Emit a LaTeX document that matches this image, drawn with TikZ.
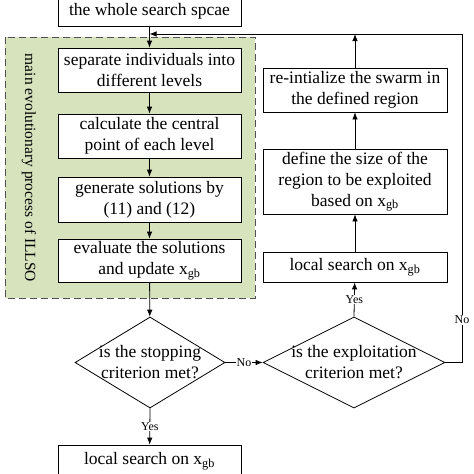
\documentclass[tikz,border=0pt]{standalone}
\usepackage{fontspec}
\setmainfont{Liberation Serif}
\usetikzlibrary{shapes.geometric,arrows.meta}
\definecolor{pgreen}{RGB}{215,227,189}
\definecolor{dgray}{RGB}{80,80,80}
\begin{document}
\begin{tikzpicture}[x=1pt,y=-1pt,
  box/.style={draw=black,line width=0.8pt,fill=white,minimum width=183pt,inner sep=0pt,align=center,font=\fontsize{17.5}{21}\selectfont},
  dia/.style={draw=black,line width=0.8pt,fill=white,diamond,inner sep=0pt},
  dtext/.style={align=center,font=\fontsize{17.5}{21}\selectfont},
  arr/.style={line width=0.8pt,-{Latex[length=7pt,width=5.5pt]}},
  lbl/.style={fill=white,inner sep=1pt,font=\fontsize{12}{14}\selectfont}]
\useasboundingbox (0,0) rectangle (474,474);
% green region
\draw[fill=pgreen,draw=dgray,line width=0.9pt,dash pattern=on 7pt off 4pt] (5,37) rectangle (255,298);
\node[rotate=-90,font=\fontsize{15.5}{18}\selectfont] (lab) at (29,168) {main evolutionary process of ILLSO};
% left column
\node[box,minimum height=30pt] (top) at (149.5,11) {the whole search spcae};
\node[box,minimum height=44pt] (b1) at (149.5,70) {separate individuals into\\different levels};
\node[box,minimum height=44pt] (b2) at (149.5,136) {calculate the central\\point of each level};
\node[box,minimum height=45pt] (b3) at (149.5,199.5) {generate solutions by\\(11) and (12)};
\node[box,minimum height=43pt] (b4) at (149.5,260.5) {evaluate the solutions\\and update x\textsubscript{gb}};
\node[dia,minimum width=150pt,minimum height=91pt] (d1) at (150,362.5) {};
\node[dtext] (t1) at (d1) {is the stopping\\criterion met?};
\node[box,minimum height=32pt] (bot) at (149.5,461) {local search on x\textsubscript{gb}};
% right column
\node[dia,minimum width=182pt,minimum height=91pt] (d2) at (354,362.5) {};
\node[dtext] (t2) at (d2) {is the exploitation\\criterion met?};
\node[box,minimum width=184pt,minimum height=30pt] (r1) at (355,267) {local search on x\textsubscript{gb}};
\node[box,minimum width=184pt,minimum height=65pt] (r2) at (355,181.5) {define the size of the\\region to be exploited\\based on x\textsubscript{gb}};
\node[box,minimum width=184pt,minimum height=44pt] (r3) at (355,90) {re-intialize the swarm in\\the defined region};
\coordinate (j) at (149.5,34);
\coordinate (c1) at (462,362.5);
\coordinate (c2) at (462,34);
% connectors
\draw[arr] (top) -- (b1);
\draw[arr] (b1) -- (b2);
\draw[arr] (b2) -- (b3);
\draw[arr] (b3) -- (b4);
\draw[arr] (b4) -- (d1);
\draw[arr] (d1.south) -- node[lbl] {Yes} (bot);
\draw[arr] (d1.east) -- node[lbl] {No} (d2.west);
\draw[arr] (d2.north) -- node[lbl] {Yes} (r1);
\draw[arr] (r1) -- (r2);
\draw[arr] (r2) -- (r3);
\draw[arr] (r3.north) -- (r3.north |- j);
\draw[arr] (d2.east) -- (c1) -- node[lbl,pos=0.13] {No} (c2) -- (j);
\end{tikzpicture}
\end{document}
